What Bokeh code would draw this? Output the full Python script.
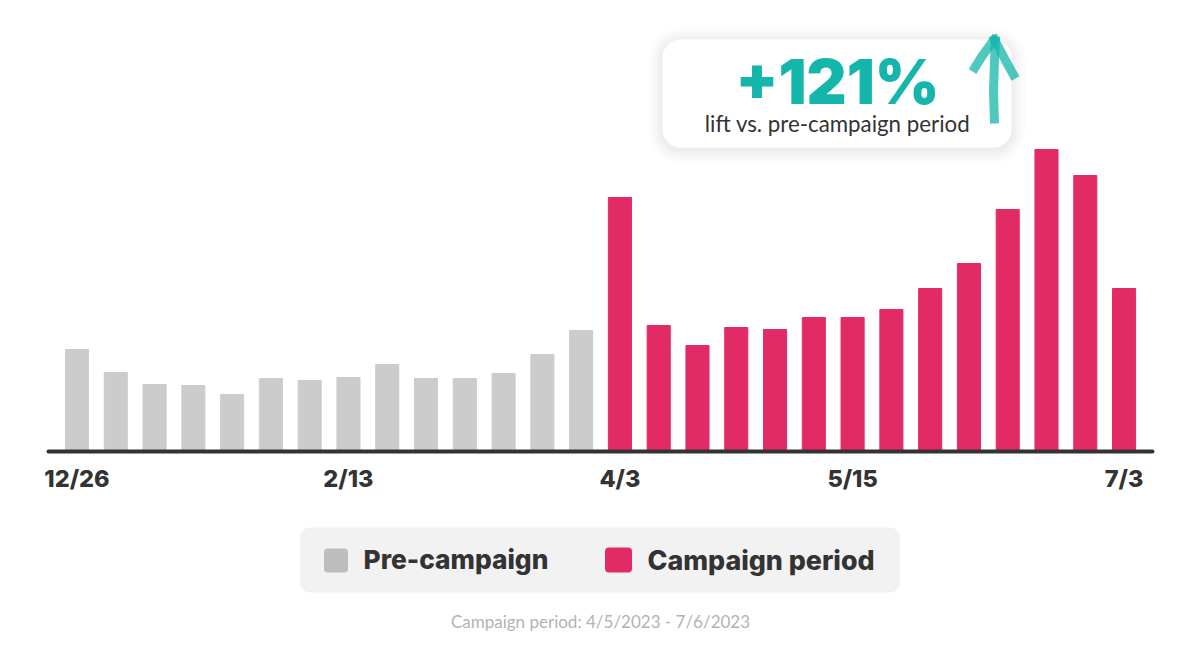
from bokeh.embed import file_html
from bokeh.models import (BoxAnnotation, ColumnDataSource, FixedTicker, Label,
                          LinearAxis, Range1d)
from bokeh.plotting import figure
from bokeh.resources import INLINE

week_labels = ["12/26", "1/2", "1/9", "1/16", "1/23", "1/30", "2/6", "2/13", "2/20", "2/27", "3/6", "3/13", "3/20", "3/27",
               "4/3", "4/10", "4/17", "4/24", "5/1", "5/8", "5/15", "5/22", "5/29", "6/5", "6/12", "6/19", "6/26", "7/3"]
pre_values = [102, 79, 67, 66, 57, 73, 71, 74, 87, 73, 73, 78, 97, 121]
campaign_values = [254, 126, 106, 124, 122, 134, 134, 142, 163, 188, 242, 302, 276, 163]
tick_positions = [0, 7, 14, 20, 27]

GREY, PINK, TEAL, DARK = "#cccccc", "#e22b65", "#14b5aa", "#333333"
HEAVY = "Inter Black"
STRONG = "Inter ExtraBold"

W, H = 1192, 639
p = figure(width=W, height=H, output_backend="svg", toolbar_location=None,
           x_range=Range1d(-1.973, 28.765), y_range=Range1d(-188, 451),
           x_axis_location=None, y_axis_location=None, min_border=0,
           outline_line_color=None, background_fill_color="white")
p.grid.visible = False
# Pixel helper ranges for the decorations
p.extra_x_ranges["px"] = Range1d(0, W)
p.extra_y_ranges["py"] = Range1d(H, 0)

pre = ColumnDataSource(dict(x=list(range(len(pre_values))), top=pre_values))
camp = ColumnDataSource(dict(x=[len(pre_values) + i for i in range(len(campaign_values))], top=campaign_values))
p.vbar(x="x", top="top", bottom=0, width=0.595, color=GREY, source=pre)
p.vbar(x="x", top="top", bottom=0, width=0.595, color=PINK, source=camp)

axis = LinearAxis(fixed_location=0, bounds=(-0.74, 27.73),
                  ticker=FixedTicker(ticks=tick_positions),
                  major_label_overrides={i: week_labels[i] for i in tick_positions},
                  axis_line_color=DARK, axis_line_width=4, axis_line_cap="round",
                  major_tick_line_color=None, minor_tick_line_color=None,
                  major_label_standoff=6, major_label_text_font=STRONG,
                  major_label_text_font_size="23.5px", major_label_text_color=DARK)
p.add_layout(axis, "below")


def box(l, r, t, b, color, alpha=1.0, radius=0):
    p.add_layout(BoxAnnotation(left=l, right=r, top=t, bottom=b, x_range_name="px", y_range_name="py",
                               fill_color=color, fill_alpha=alpha, line_color=None, border_radius=radius))


def text(x, y, s, size, color, font, align="left", style="normal"):
    p.add_layout(Label(x=x, y=y, text=s, x_range_name="px", y_range_name="py", text_font=font,
                       text_font_style=style, text_font_size=size, text_color=color,
                       text_align=align, text_baseline="middle"))


# Card with soft shadow
for g in (14, 11, 8, 6, 4, 2):
    box(662 - g, 1011 + g, 39 - g + 2, 147 + g + 2, "#000000", 0.012, 18 + g)
box(662, 1011, 39, 147, "#ffffff", 1, 18)
text(837, 81, "+121%", "62px", TEAL, HEAVY, "center")
text(837, 123, "lift vs. pre-campaign period", "22.3px", DARK, "Lato", "center")

# Hand-drawn up arrow
for xs, ys in (([994, 993, 994, 995], [123, 90, 60, 36]),
               ([972, 982, 996], [71, 55, 36]),
               ([1015, 1005, 992], [78, 60, 35])):
    p.line(xs, ys, x_range_name="px", y_range_name="py", line_color=TEAL, line_alpha=0.75,
           line_width=9, line_cap="butt", level="overlay")

# Legend panel
box(299.5, 899.5, 527, 592, "#f2f2f2", 1, 10)
box(323.5, 347.5, 548, 572, "#bdbdbd", 1, 4)
box(604.5, 631.5, 547, 572, PINK, 1, 4)
text(363, 559, "Pre-campaign", "26.3px", DARK, STRONG)
text(647, 559, "Campaign period", "26.8px", DARK, STRONG)
text(600, 621, "Campaign period: 4/5/2023 - 7/6/2023", "17px", "#b3b3b3", "Lato", "center")

open("out.html", "w").write(file_html(p, INLINE))
